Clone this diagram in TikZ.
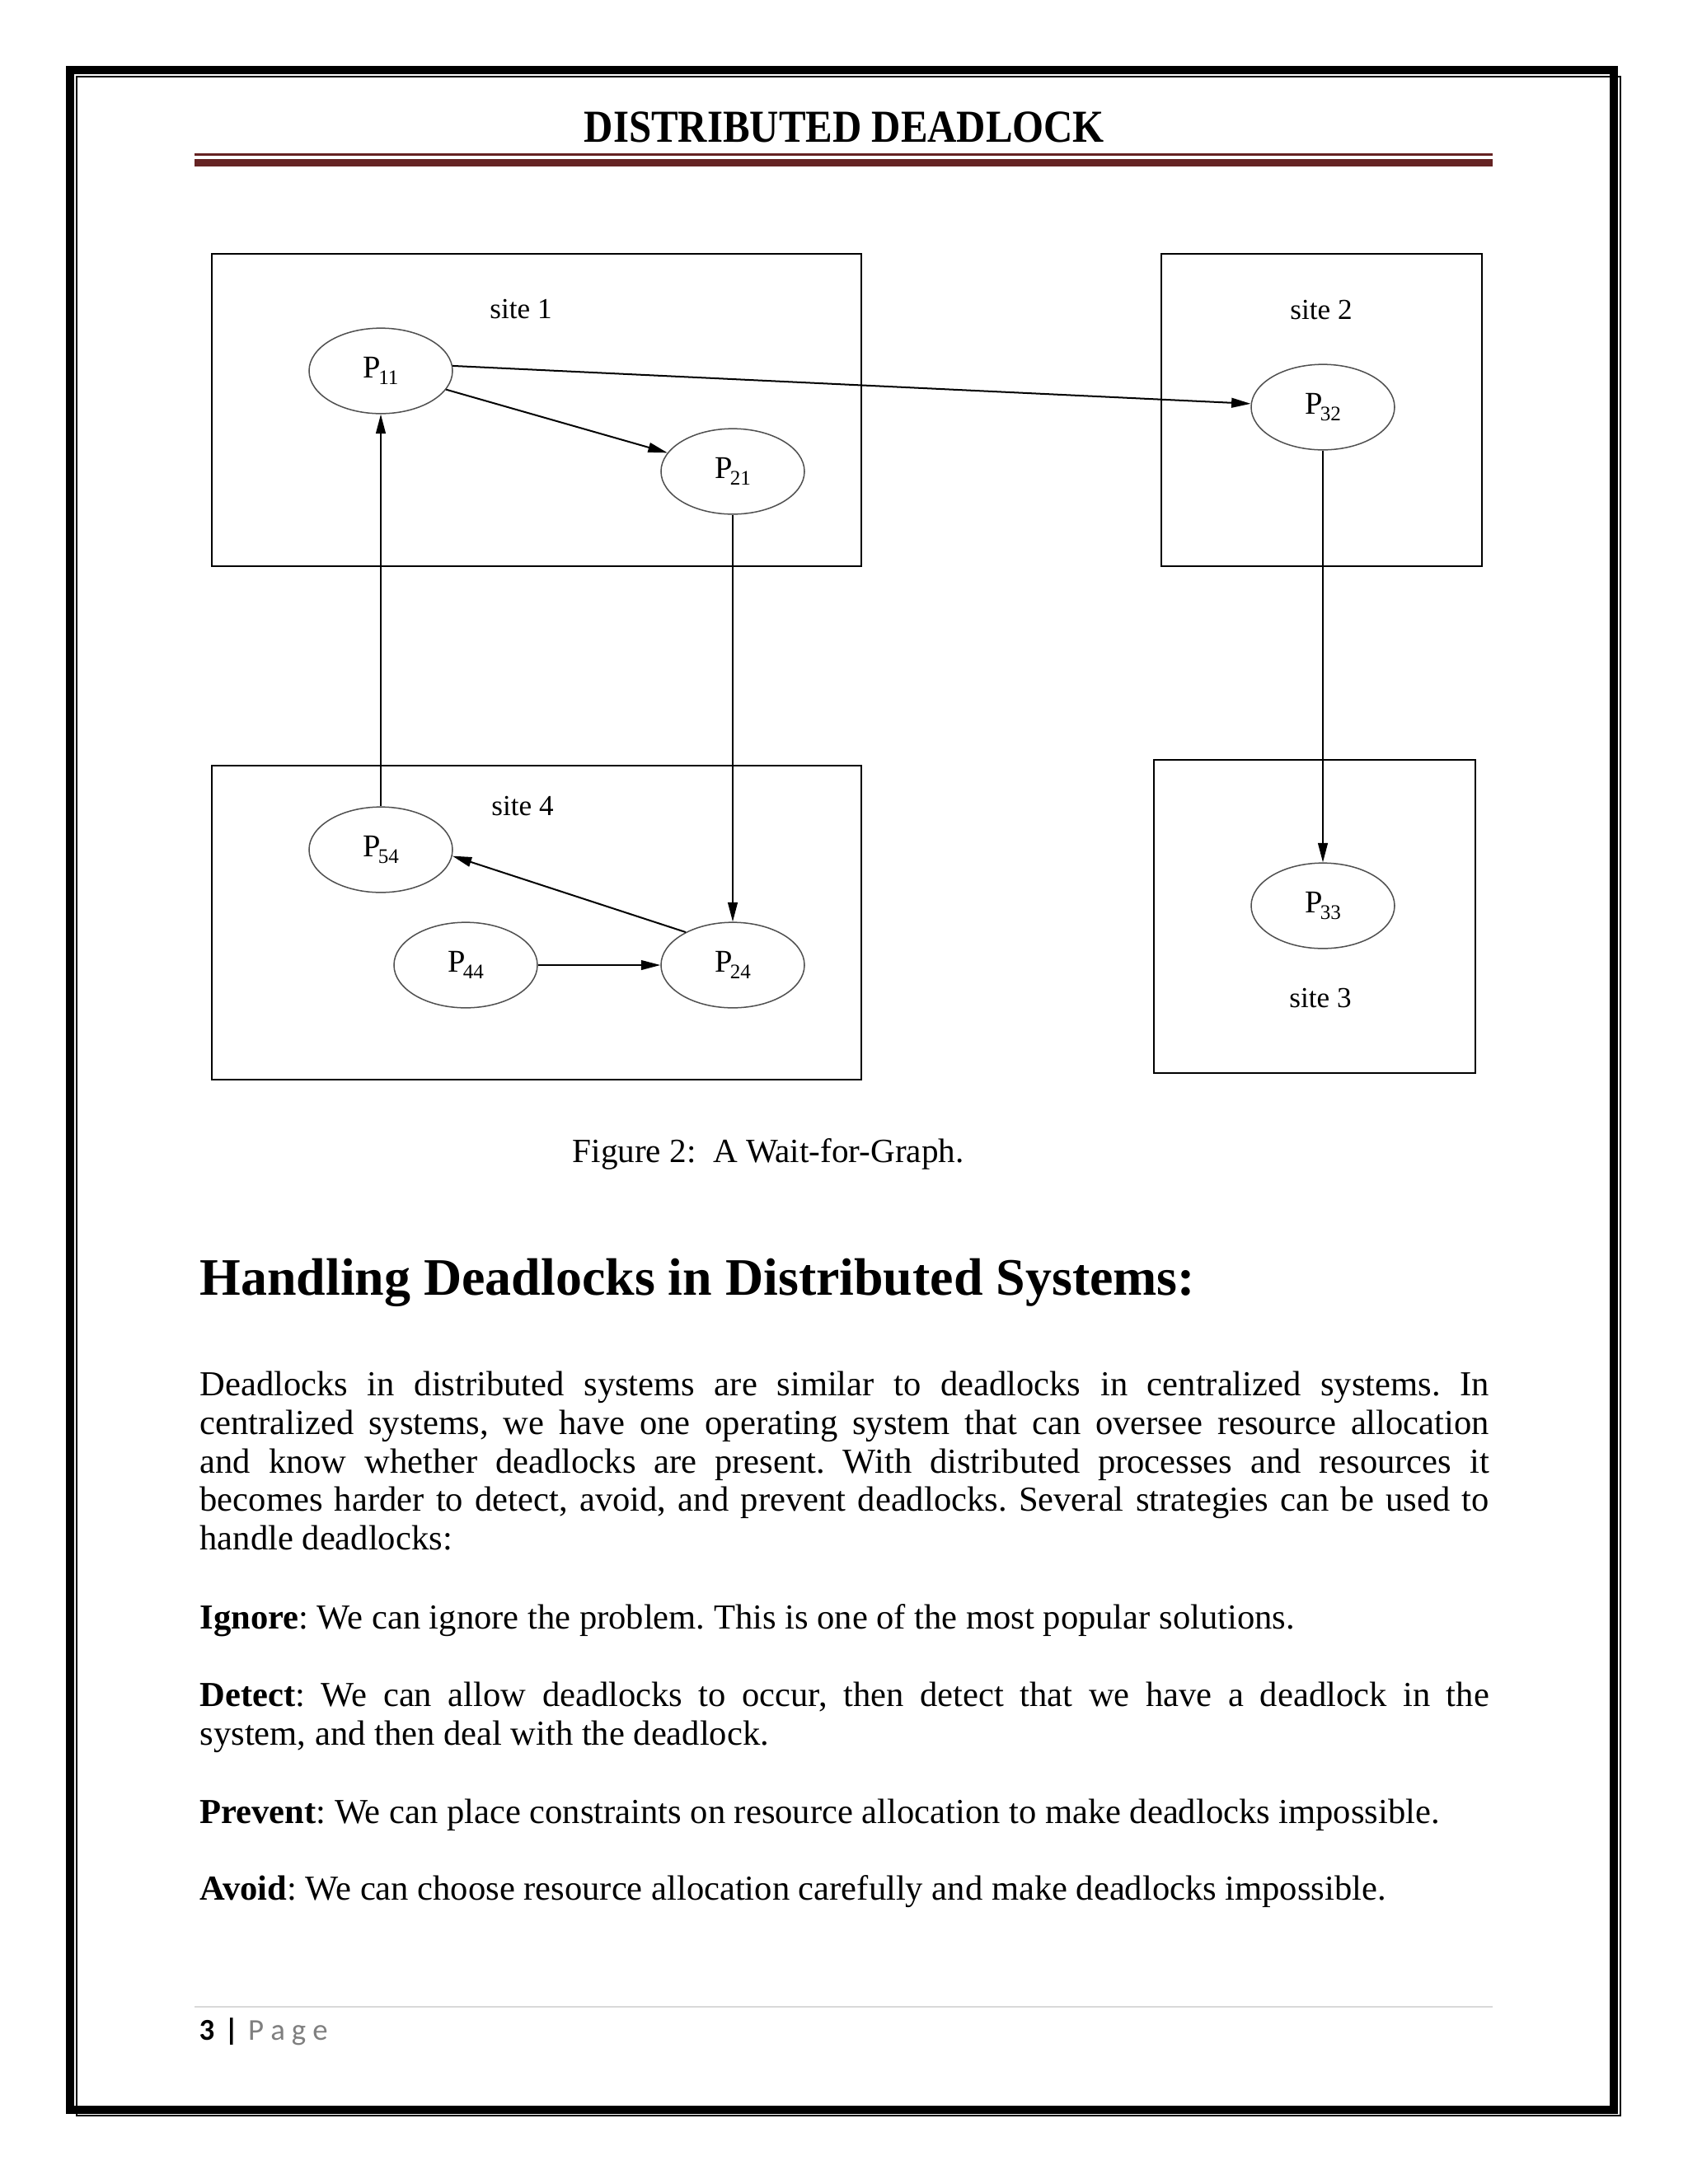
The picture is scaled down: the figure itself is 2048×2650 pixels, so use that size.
\documentclass[tikz,border=0pt]{standalone}
\usepackage{fontspec}
\usepackage{graphicx}
\setmainfont{Liberation Serif}
\newfontfamily\footfont{Carlito}
\usetikzlibrary{arrows.meta,shapes.geometric}
\definecolor{hdred}{RGB}{101,35,35}
\definecolor{ellgray}{RGB}{80,80,80}
\definecolor{footgray}{RGB}{127,127,127}
\definecolor{rulegray}{RGB}{217,217,217}
\newcommand\prc[1]{P\kern-0.8pt\raisebox{-2.6pt}{\fontsize{7.5}{7.5}\selectfont #1}}
\newcommand\jline[1]{\makebox[467.4pt][s]{#1}}
\frenchspacing
\tikzset{
  proc/.style={ellipse, draw=ellgray, line width=0.45pt, minimum width=52pt,
    minimum height=31pt, inner sep=0pt, font=\fontsize{11.5}{11.5}\selectfont},
  sitebox/.style={draw=black, line width=0.75pt},
  wfe/.style={-{Triangle[length=7pt,width=3.5pt]}, line width=0.6pt},
  sitelabel/.style={font=\fontsize{10.5}{12}\selectfont, anchor=base, inner sep=0pt},
  bodytext/.style={anchor=base west, inner sep=0pt, font=\fontsize{12.72}{14}\selectfont\frenchspacing},
}
\begin{document}
\begin{tikzpicture}[x=0.29883pt,y=-0.29883pt]
\useasboundingbox[fill=white] (0,0) rectangle (2048,2650);
% page border
\draw[line width=3pt] (85,85) rectangle (1958,2560);
\draw[line width=0.6pt] (93,93) rectangle (1966,2567);
% header
\node[anchor=base, inner sep=0pt] (title) at (1024.5,172)
  {\resizebox{188.6pt}{11pt}{\bfseries DISTRIBUTED DEADLOCK}};
\fill[hdred] (236,186) rectangle (1811,188.5);
\fill[hdred] (236,193) rectangle (1811,202);
% site boxes
\draw[sitebox] (257,308) rectangle (1045,687);
\draw[sitebox] (1409,308) rectangle (1798,687);
\draw[sitebox] (257,929) rectangle (1045,1310);
\draw[sitebox] (1400,922) rectangle (1790,1302);
\node[sitelabel] (s1) at (632,386) {site 1};
\node[sitelabel] (s2) at (1603,387) {site 2};
\node[sitelabel] (s4) at (634,989) {site 4};
\node[sitelabel] (s3) at (1602,1222) {site 3};
% processes
\node[proc] (P11) at (462,450) {\prc{11}};
\node[proc] (P21) at (889,572) {\prc{21}};
\node[proc] (P32) at (1605,494) {\prc{32}};
\node[proc] (P33) at (1605,1099) {\prc{33}};
\node[proc] (P54) at (462,1031) {\prc{54}};
\node[proc] (P44) at (565,1171) {\prc{44}};
\node[proc] (P24) at (889,1171) {\prc{24}};
% wait-for edges
\draw[wfe] (P11) -- (P21);
\draw[wfe] (P11.4) -- (P32);
\draw[wfe] (P21) -- (P24);
\draw[wfe] (P32) -- (P33);
\draw[wfe] (P54) -- (P11);
\draw[wfe] (P44) -- (P24);
\draw[wfe] (P24.145) -- (P54.-5);
% caption and heading
\node[anchor=base west, inner sep=0pt, font=\fontsize{12.3}{14}\selectfont] (cap) at (694,1410)
  {Figure 2:\ \ A Wait-for-Graph.};
\node[anchor=base west, inner sep=0pt, font=\fontsize{19.1}{22}\selectfont\bfseries] (head) at (242,1571)
  {Handling Deadlocks in Distributed Systems:};
% body
\node[bodytext] (l1) at (242,1693) {\jline{Deadlocks in distributed systems are similar to deadlocks in centralized systems. In}};
\node[bodytext] (l2) at (242,1740) {\jline{centralized systems, we have one operating system that can oversee resource allocation}};
\node[bodytext] (l3) at (242,1787) {\jline{and know whether deadlocks are present. With distributed processes and resources it}};
\node[bodytext] (l4) at (242,1833) {\jline{becomes harder to detect, avoid, and prevent deadlocks. Several strategies can be used to}};
\node[bodytext] (l5) at (242,1880) {handle deadlocks:};
\node[bodytext] (ig) at (242,1976) {\textbf{Ignore}: We can ignore the problem. This is one of the most popular solutions.};
\node[bodytext] (de1) at (242,2070) {\jline{\textbf{Detect}: We can allow deadlocks to occur, then detect that we have a deadlock in the}};
\node[bodytext] (de2) at (242,2117) {system, and then deal with the deadlock.};
\node[bodytext] (pr) at (242,2212) {\textbf{Prevent}: We can place constraints on resource allocation to make deadlocks impossible.};
\node[bodytext] (av) at (242,2305) {\textbf{Avoid}: We can choose resource allocation carefully and make deadlocks impossible.};
% footer
\draw[rulegray, line width=0.5pt] (236,2435) -- (1811,2435);
\node[anchor=base west, inner sep=0pt, font=\footfont\fontsize{11}{13}\selectfont] (pg) at (241,2475)
  {\textbf{3}\hspace{3.5pt}\textbf{|}\hspace{3.5pt}\textcolor{footgray}{P\hspace{2.4pt}a\hspace{2.4pt}g\hspace{2.4pt}e}};
\end{tikzpicture}
\end{document}
